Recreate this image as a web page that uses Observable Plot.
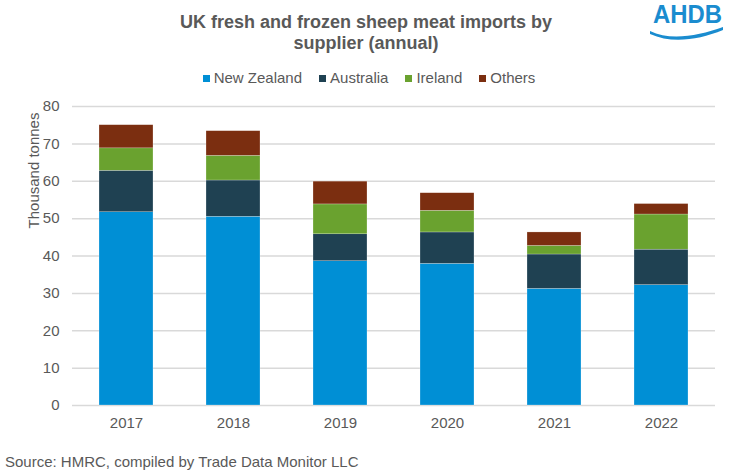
<!DOCTYPE html>
<html>
<head>
<meta charset="utf-8">
<script src="https://cdn.jsdelivr.net/npm/d3@7"></script>
<script src="https://cdn.jsdelivr.net/npm/@observablehq/plot@0.6"></script>
<style>
  body { margin: 0; background: #fff; }
  #wrap { position: relative; width: 732px; height: 473px; font-family: "Liberation Sans", Arial, sans-serif; color: #595959; overflow: hidden; }
  #title { position: absolute; left: 0; top: 12px; width: 732px; text-align: center; font-weight: bold; font-size: 18px; line-height: 21px; }
  #legend { position: absolute; left: 0; top: 69px; width: 732px; display: flex; justify-content: center; gap: 17px; font-size: 15px; line-height: 18px; padding-left: 6px; box-sizing: border-box; }
  #legend .item { display: flex; align-items: center; gap: 4px; }
  #legend .sw { width: 7px; height: 7px; display: inline-block; }
  #source { position: absolute; left: 5px; top: 453px; font-size: 15px; line-height: 18px; }
  #chart { position: absolute; left: 0; top: 0; }
  #logo { position: absolute; left: 640px; top: 0px; }
</style>
</head>
<body>
<div id="wrap">
  <div id="chart"></div>
  <div id="title">UK fresh and frozen sheep meat imports by<br>supplier (annual)</div>
  <div id="legend"></div>
  <div id="source">Source: HMRC, compiled by Trade Data Monitor LLC</div>
  <svg id="logo" width="92" height="45" viewBox="0 0 92 45">
    <text x="13" y="23" font-family="Liberation Sans, Arial, sans-serif" font-weight="bold" font-size="26" fill="#1a8ccf" textLength="69" lengthAdjust="spacingAndGlyphs">AHDB</text>
    <path d="M10 31 C 30 41, 58 36, 83 27 L 83 30 C 58 40, 32 44, 10 34 Z" fill="#1a8ccf"/>
  </svg>
</div>
<script>
const years = ["2017", "2018", "2019", "2020", "2021", "2022"];
const seriesNames = ["New Zealand", "Australia", "Ireland", "Others"];
const seriesColors = ["#008fd5", "#1f4152", "#6aa22f", "#7b2e10"];
const newZealand = [51.7, 50.5, 38.6, 37.9, 31.2, 32.2];
const australia = [11.1, 9.7, 7.2, 8.4, 9.2, 9.5];
const ireland = [6.0, 6.6, 8.0, 5.8, 2.3, 9.4];
const others = [6.2, 6.6, 6.1, 4.7, 3.6, 2.8];
const yTicks = [0, 10, 20, 30, 40, 50, 60, 70, 80];
const yLabel = "Thousand tonnes";

const seriesValues = [newZealand, australia, ireland, others];
const rows = [];
years.forEach((y, i) => {
  seriesNames.forEach((s, j) => rows.push({year: y, series: s, value: seriesValues[j][i]}));
});

const chart = Plot.plot({
  width: 732,
  height: 473,
  marginTop: 106,
  marginBottom: 68,
  marginLeft: 72,
  marginRight: 17,
  style: {fontFamily: "'Liberation Sans', Arial, sans-serif", fontSize: "15px", color: "#595959", background: "transparent"},
  x: {domain: years, paddingInner: 0.5, paddingOuter: 0.25, label: null},
  y: {domain: [0, 80], label: null},
  color: {domain: seriesNames, range: seriesColors},
  marks: [
    Plot.gridY(yTicks, {stroke: "#d9d9d9", strokeOpacity: 1, strokeWidth: 1.5}),
    Plot.barY(rows, {x: "year", y: "value", fill: "series", order: seriesNames, stroke: "#ffffff", strokeWidth: 0.4, strokeOpacity: 0.6}),
    Plot.axisY(yTicks, {tickSize: 0, tickPadding: 13, label: null}),
    Plot.axisX({tickSize: 0, tickPadding: 12, label: null}),
    Plot.text([yLabel], {frameAnchor: "top-left", rotate: -90, dx: -44, dy: 64, textAnchor: "middle", fill: "#595959", fontSize: 15})
  ]
});
document.getElementById("chart").appendChild(chart);

const legend = document.getElementById("legend");
seriesNames.forEach((s, i) => {
  const item = document.createElement("div");
  item.className = "item";
  const sw = document.createElement("span");
  sw.className = "sw";
  sw.style.background = seriesColors[i];
  const t = document.createElement("span");
  t.textContent = s;
  item.appendChild(sw);
  item.appendChild(t);
  legend.appendChild(item);
});
</script>
</body>
</html>
